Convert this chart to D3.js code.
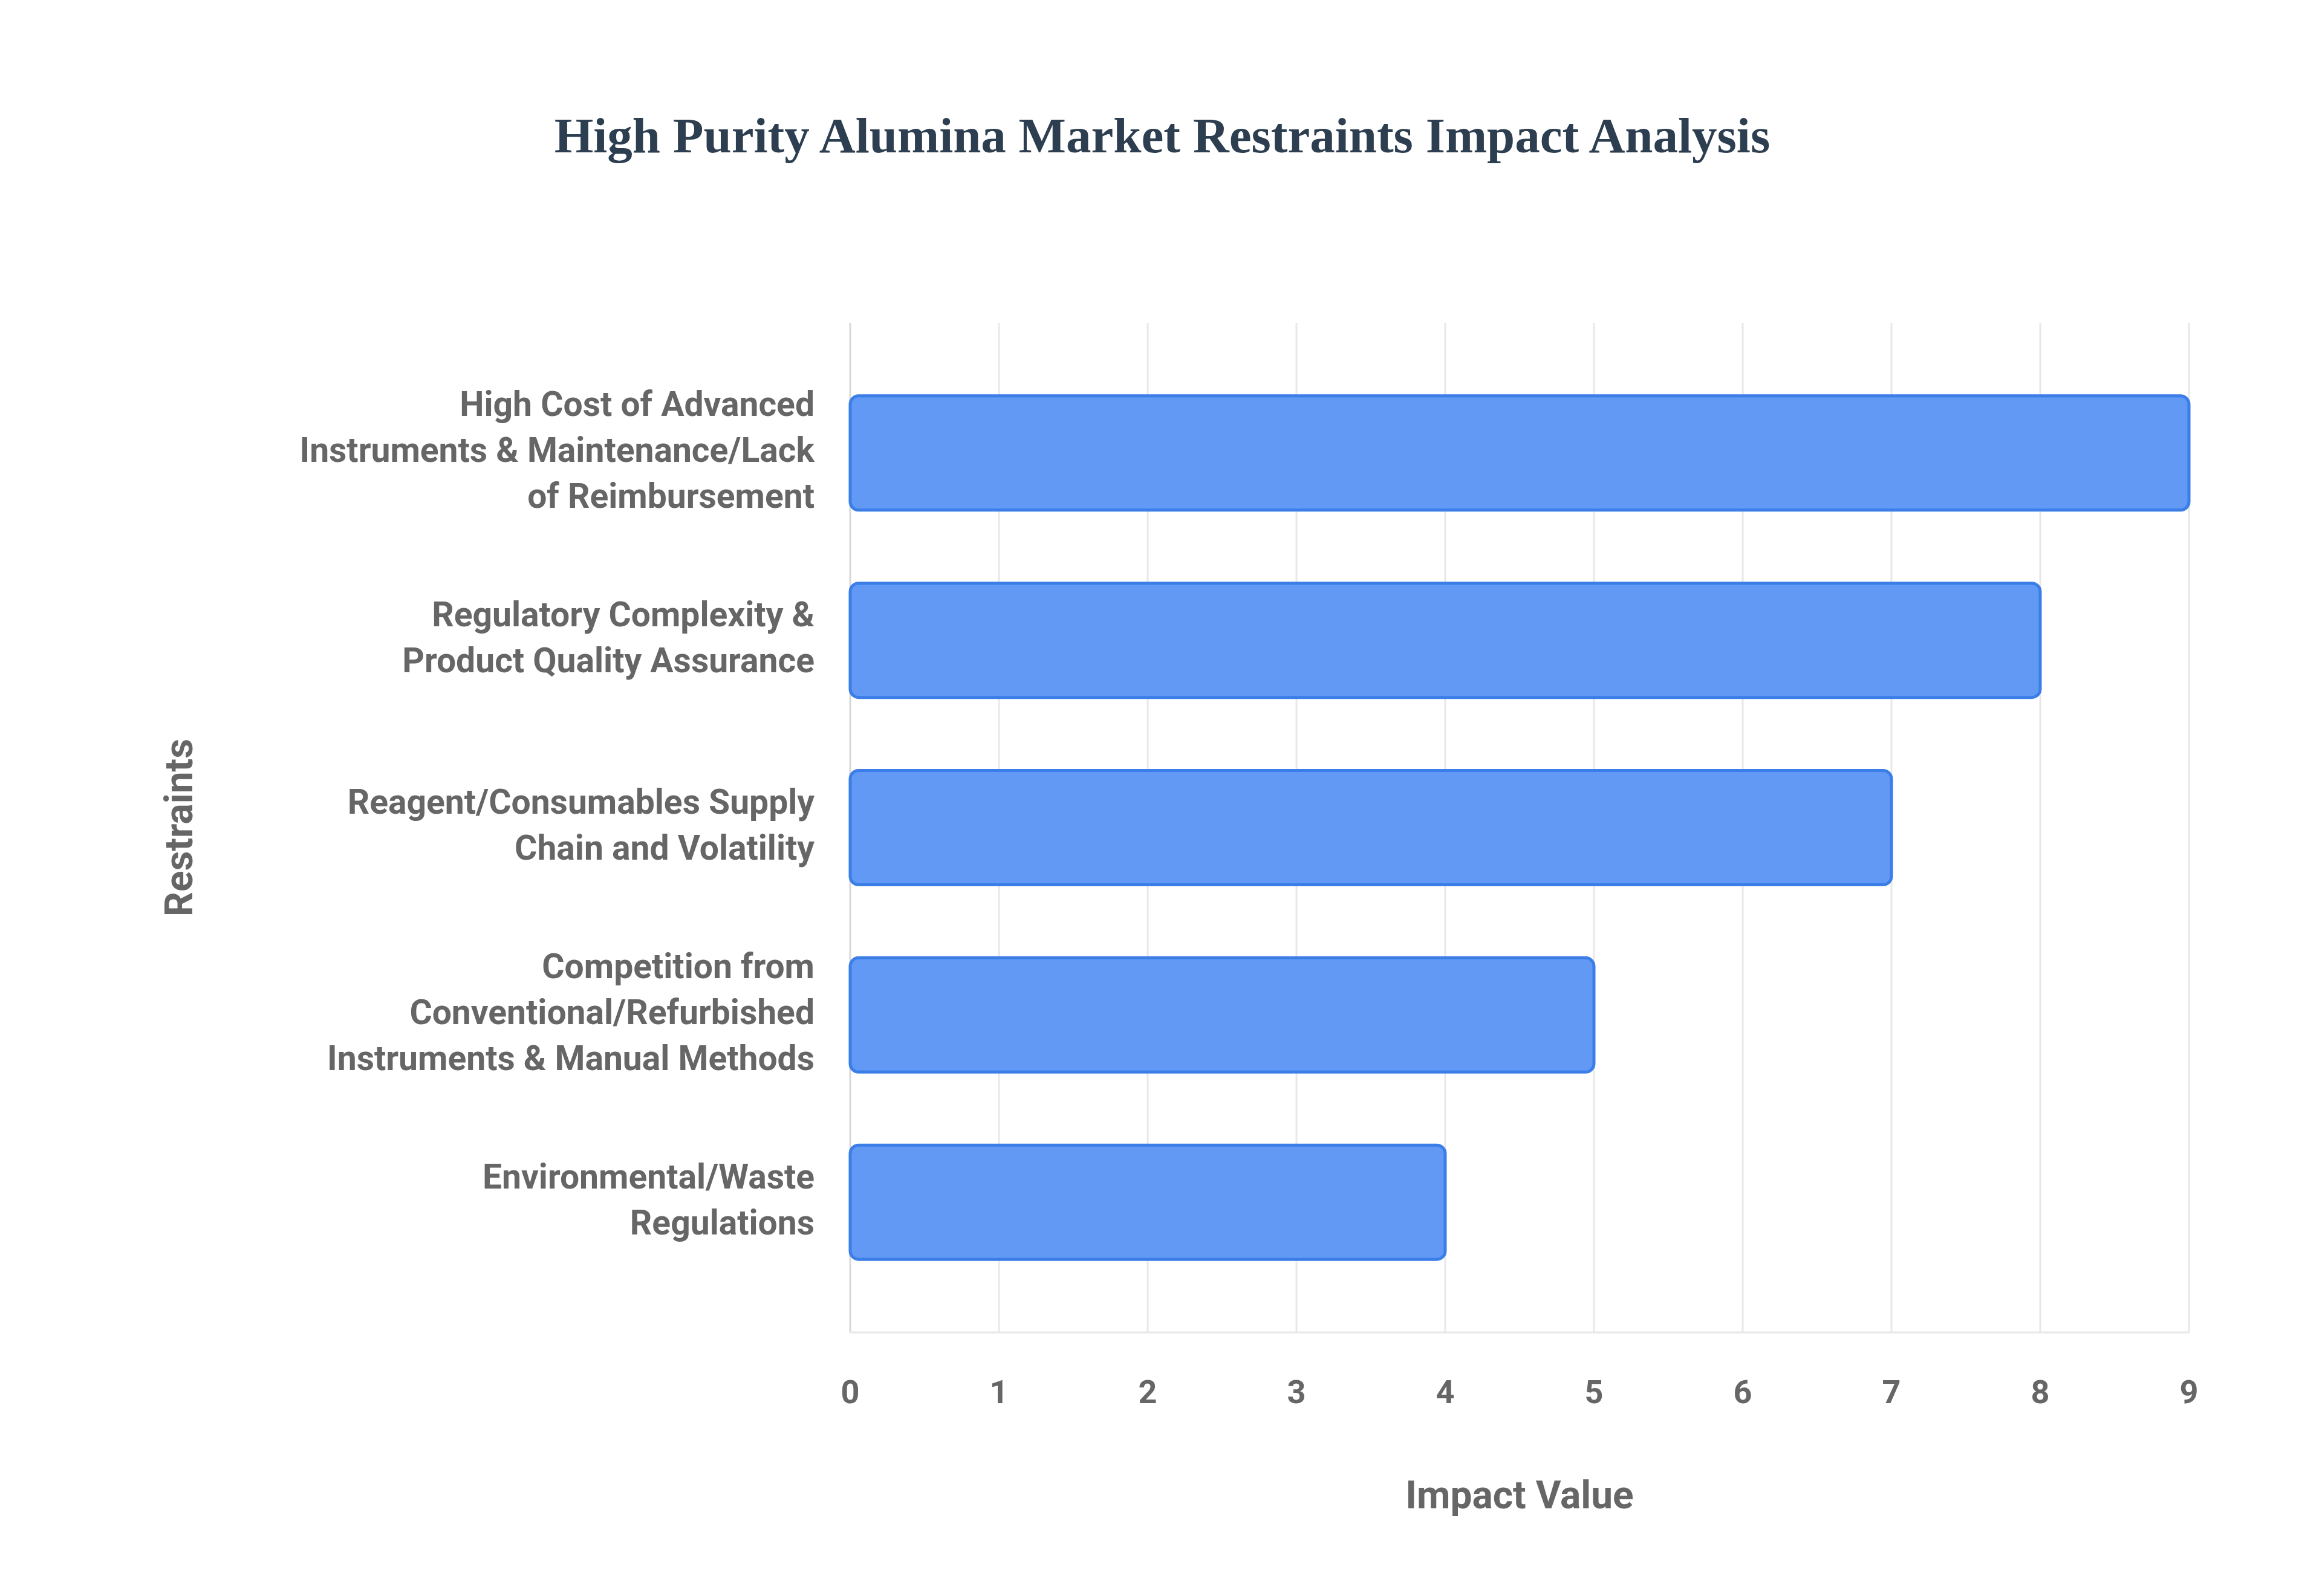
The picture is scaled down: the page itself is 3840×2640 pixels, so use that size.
<!DOCTYPE html>
<html>
<head>
<meta charset="utf-8">
<script src="https://cdn.jsdelivr.net/npm/d3@7"></script>
<style>
  body { margin: 0; background: #fff; }
  svg text { font-family: Roboto, "Liberation Sans", sans-serif; }
</style>
</head>
<body>
<div id="chart"></div>
<script>
var categories = [
    ["High Cost of Advanced", "Instruments & Maintenance/Lack", "of Reimbursement"],
    ["Regulatory Complexity &", "Product Quality Assurance"],
    ["Reagent/Consumables Supply", "Chain and Volatility"],
    ["Competition from", "Conventional/Refurbished", "Instruments & Manual Methods"],
    ["Environmental/Waste", "Regulations"]
];
var values = [9, 8, 7, 5, 4];
var tickValues = [0, 1, 2, 3, 4, 5, 6, 7, 8, 9];

var width = 3840, height = 2640;
var plotLeft = 1406, plotRight = 3620, plotTop = 534, plotBottom = 2204;

var svg = d3.select("#chart").append("svg")
    .attr("width", width).attr("height", height);

svg.append("text")
    .attr("x", 1922).attr("y", 233)
    .attr("text-anchor", "middle")
    .attr("dominant-baseline", "middle")
    .style("font-family", "'Liberation Serif', serif")
    .style("font-weight", "bold")
    .style("font-size", "83px")
    .attr("fill", "#2c3e50")
    .text("High Purity Alumina Market Restraints Impact Analysis");

var x = d3.scaleLinear().domain([0, 9]).range([plotLeft, plotRight]);
var y = d3.scaleBand().domain(d3.range(categories.length)).range([plotTop, plotBottom]).padding(0.39);

// grid
svg.selectAll("line.grid")
    .data(tickValues)
    .enter().append("line")
    .attr("x1", function(d) { return x(d); })
    .attr("x2", function(d) { return x(d); })
    .attr("y1", plotTop).attr("y2", plotBottom)
    .attr("stroke", function(d) { return d === 0 ? "#d8d8d8" : "#e8e8e8"; })
    .attr("stroke-width", 3);

svg.append("line")
    .attr("x1", plotLeft).attr("x2", plotRight)
    .attr("y1", plotBottom).attr("y2", plotBottom)
    .attr("stroke", "#e8e8e8").attr("stroke-width", 3);

// bars
svg.selectAll("rect.bar")
    .data(values)
    .enter().append("rect")
    .attr("class", "bar")
    .attr("x", plotLeft)
    .attr("y", function(d, i) { return y(i); })
    .attr("width", function(d) { return x(d) - plotLeft; })
    .attr("height", y.bandwidth())
    .attr("rx", 14)
    .attr("fill", "#6199f5")
    .attr("stroke", "#3b7ee8")
    .attr("stroke-width", 5);

// x tick labels
svg.selectAll("text.tick")
    .data(tickValues)
    .enter().append("text")
    .attr("x", function(d) { return x(d); })
    .attr("y", 2307)
    .attr("text-anchor", "middle")
    .attr("dominant-baseline", "middle")
    .style("font-size", "54px").style("font-weight", "bold")
    .attr("fill", "#666")
    .text(function(d) { return d; });

// category labels
categories.forEach(function(lines, i) {
    var cy = y(i) + y.bandwidth() / 2;
    var lh = 76;
    var t = svg.append("text")
        .attr("text-anchor", "end")
        .style("font-size", "57px").style("font-weight", "bold")
        .attr("fill", "#666");
    lines.forEach(function(s, j) {
        t.append("tspan")
            .attr("x", 1347)
            .attr("y", cy + (j - (lines.length - 1) / 2) * lh)
            .attr("dominant-baseline", "middle")
            .text(s);
    });
});

svg.append("text")
    .attr("x", 2513).attr("y", 2478)
    .attr("text-anchor", "middle").attr("dominant-baseline", "middle")
    .style("font-size", "64px").style("font-weight", "bold")
    .attr("fill", "#666")
    .text("Impact Value");

svg.append("text")
    .attr("transform", "translate(301," + ((plotTop + plotBottom) / 2) + ") rotate(-90)")
    .attr("text-anchor", "middle").attr("dominant-baseline", "middle")
    .style("font-size", "64px").style("font-weight", "bold")
    .attr("fill", "#666")
    .text("Restraints");
</script>
</body>
</html>
